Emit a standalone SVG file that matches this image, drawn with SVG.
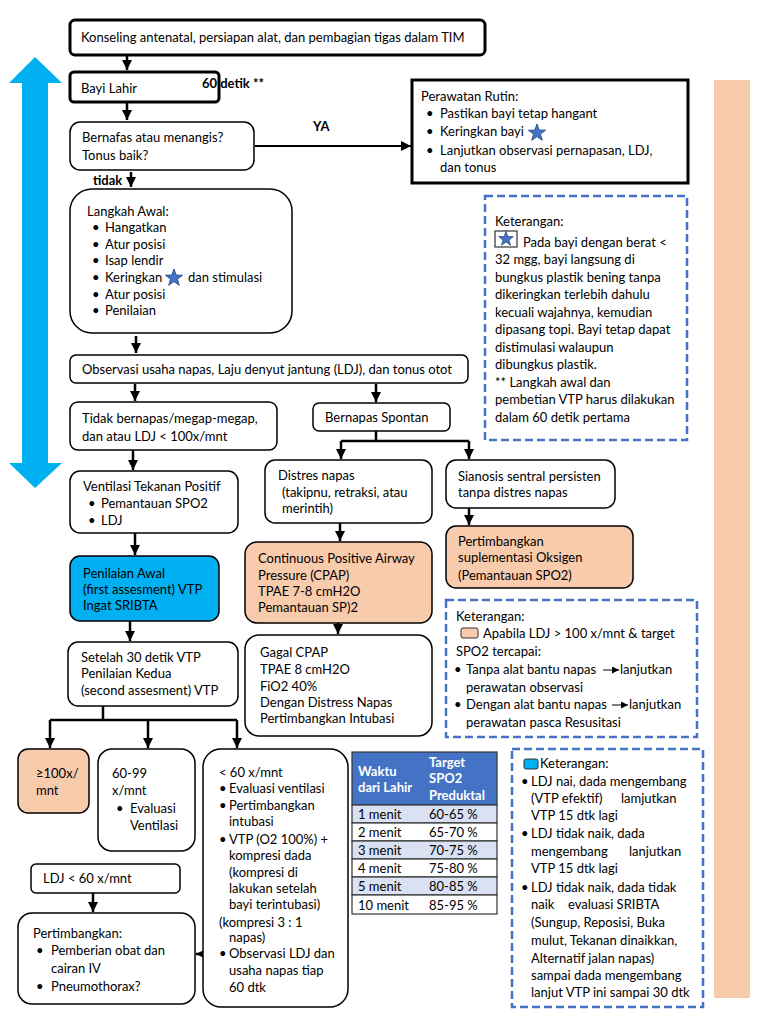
<svg xmlns="http://www.w3.org/2000/svg" width="768" height="1024" viewBox="0 0 768 1024">
<style>
text{font-family:Lato,"Liberation Sans",sans-serif;font-size:13px;fill:#000}
.b{font-weight:bold}
.w{fill:#fff;font-weight:bold}
.box{fill:#fff;stroke:#000;stroke-width:1.5}
.thick{fill:#fff;stroke:#000;stroke-width:3}
.or{fill:#F8CBAD;stroke:#000;stroke-width:1.5}
.bl{fill:#00B0F0;stroke:#000;stroke-width:1.5}
.dash{fill:#fff;stroke:#4472C4;stroke-width:2.5;stroke-dasharray:8 4}
.c{stroke:#000;stroke-width:2.5;fill:none}
.ca{stroke:#000;stroke-width:2.5;fill:none;marker-end:url(#ah)}
.st{fill:#4472C4;stroke:#2F528F;stroke-width:1}
.row1{fill:#D9E1F2;stroke:#333;stroke-width:1.2}
.row2{fill:#fff;stroke:#333;stroke-width:1.2}
</style>
<defs>
<marker id="ah" markerUnits="userSpaceOnUse" markerWidth="10" markerHeight="10" viewBox="0 0 10 10" refX="10" refY="5" orient="auto"><path d="M0,0 L10,5 L0,10 z" fill="#000"/></marker>
<marker id="sa" markerUnits="userSpaceOnUse" markerWidth="7" markerHeight="7" viewBox="0 0 10 10" refX="10" refY="5" orient="auto"><path d="M0,0 L10,5 L0,10 z" fill="#000"/></marker>
<polygon id="star" points="0,-9 2.12,-2.91 8.56,-2.78 3.42,1.11 5.29,7.28 0,3.6 -5.29,7.28 -3.42,1.11 -8.56,-2.78 -2.12,-2.91"/>
</defs>

<!-- side decorations -->
<rect x="714" y="80" width="36" height="918" fill="#F8CBAD"/>
<polygon id="bluearrow" points="35,57 62,83 48,83 48,463 62,463 35,488 9,463 22,463 22,83 9,83" fill="#00B0F0"/>

<g id="connectors">
<path class="ca" d="M127,56 V70"/>
<path class="ca" d="M127,102 V120"/>
<path class="ca" d="M255,146 H411" style="stroke-width:2"/>
<path class="ca" d="M131,172 V187"/>
<path class="ca" d="M136,336 V353"/>
<path class="ca" d="M135,384 V401"/>
<path class="ca" d="M376,384 V402"/>
<path class="c" d="M376,431 V441"/>
<path class="c" d="M341,441 H469"/>
<path class="ca" d="M341,441 V459"/>
<path class="ca" d="M469,441 V459"/>
<path class="ca" d="M133,450 V470"/>
<path class="ca" d="M135,533 V555"/>
<path class="ca" d="M130,621 V641"/>
<path class="c" d="M103,706 V720"/>
<path class="c" d="M50,720 H237"/>
<path class="ca" d="M50,720 V748"/>
<path class="ca" d="M148,720 V748"/>
<path class="ca" d="M237,720 V748"/>
<path class="ca" d="M340,523 V541"/>
<path class="ca" d="M469,508 V525"/>
<path class="ca" d="M338,623 V634"/>
<path class="ca" d="M93,893 V912"/>
<path class="ca" d="M209,954 H196"/>
</g>

<g id="n-konseling">
<rect class="thick" x="70" y="20" width="415" height="35" rx="5"/>
<text x="81" y="42">Konseling antenatal, persiapan alat, dan pembagian tigas dalam TIM</text>
</g>

<g id="n-bayi">
<rect class="thick" x="70" y="72" width="149" height="30" rx="4"/>
<text x="81" y="93">Bayi Lahir</text>
<text class="b" x="202" y="88">60 detik **</text>
</g>

<g id="n-bernafas">
<rect class="box" x="70" y="122" width="184" height="48" rx="10"/>
<text x="82" y="142">Bernafas atau menangis?</text>
<text x="82" y="160">Tonus baik?</text>
<text class="b" x="313" y="131">YA</text>
<text class="b" x="93" y="185">tidak</text>
</g>

<g id="n-perawatan">
<rect class="thick" x="412" y="80" width="276" height="103"/>
<text x="421" y="101">Perawatan Rutin:</text>
<text x="426" y="118">•</text><text x="440" y="118">Pastikan bayi tetap hangant</text>
<text x="426" y="136">•</text><text x="440" y="136">Keringkan bayi</text>
<use href="#star" class="st" x="537" y="133"/>
<text x="426" y="155">•</text><text x="440" y="155">Lanjutkan observasi pernapasan, LDJ,</text>
<text x="440" y="172">dan tonus</text>
</g>

<g id="n-langkah">
<rect class="box" x="70" y="189" width="222" height="144" rx="22"/>
<text x="87" y="216">Langkah Awal:</text>
<text x="92" y="232">•</text><text x="105" y="232">Hangatkan</text>
<text x="92" y="249">•</text><text x="105" y="249">Atur posisi</text>
<text x="92" y="265">•</text><text x="105" y="265">Isap lendir</text>
<text x="92" y="282">•</text><text x="105" y="282">Keringkan</text>
<use href="#star" class="st" x="174" y="278"/>
<text x="188" y="282">dan stimulasi</text>
<text x="92" y="299">•</text><text x="105" y="299">Atur posisi</text>
<text x="92" y="315">•</text><text x="105" y="315">Penilaian</text>
</g>

<g id="n-ket1">
<rect class="dash" x="485" y="196" width="202" height="244"/>
<text x="495" y="226">Keterangan:</text>
<rect x="495" y="231" width="22" height="16" fill="#fff" stroke="#333" stroke-width="1.2"/>
<use href="#star" class="st" transform="translate(506,239) scale(0.85)"/>
<text x="523" y="247">Pada bayi dengan berat &lt;</text>
<text x="495" y="264">32 mgg, bayi langsung di</text>
<text x="495" y="282">bungkus plastik bening tanpa</text>
<text x="495" y="299">dikeringkan terlebih dahulu</text>
<text x="495" y="317">kecuali wajahnya, kemudian</text>
<text x="495" y="334">dipasang topi. Bayi tetap dapat</text>
<text x="495" y="352">distimulasi walaupun</text>
<text x="495" y="369">dibungkus plastik.</text>
<text x="495" y="387">** Langkah awal dan</text>
<text x="495" y="404">pembetian VTP harus dilakukan</text>
<text x="495" y="422">dalam 60 detik pertama</text>
</g>

<g id="n-observasi">
<rect class="box" x="70" y="355" width="398" height="28" rx="6"/>
<text x="82" y="374">Observasi usaha napas, Laju denyut jantung (LDJ), dan tonus otot</text>
</g>

<g id="n-tidak">
<rect class="box" x="70" y="402" width="207" height="48" rx="8"/>
<text x="82" y="423">Tidak bernapas/megap-megap,</text>
<text x="82" y="441">dan atau LDJ &lt; 100x/mnt</text>
</g>

<g id="n-spontan">
<rect class="box" x="313" y="403" width="137" height="28" rx="6"/>
<text x="325" y="422">Bernapas Spontan</text>
</g>

<g id="n-vtp">
<rect class="box" x="70" y="471" width="168" height="62" rx="10"/>
<text x="83" y="491">Ventilasi Tekanan Positif</text>
<text x="88" y="508">•</text><text x="101" y="508">Pemantauan SPO2</text>
<text x="88" y="525">•</text><text x="101" y="525">LDJ</text>
</g>

<g id="n-distres">
<rect class="box" x="265" y="460" width="167" height="63" rx="10"/>
<text x="278" y="480">Distres napas</text>
<text x="282" y="497">(takipnu, retraksi, atau</text>
<text x="282" y="513">merintih)</text>
</g>

<g id="n-sianosis">
<rect class="box" x="446" y="460" width="169" height="48" rx="10"/>
<text x="458" y="481">Sianosis sentral persisten</text>
<text x="458" y="497">tanpa distres napas</text>
</g>

<g id="n-oksigen">
<rect class="or" x="446" y="526" width="187" height="62" rx="10"/>
<text x="458" y="546">Pertimbangkan</text>
<text x="458" y="562">suplementasi Oksigen</text>
<text x="458" y="580">(Pemantauan SPO2)</text>
</g>

<g id="n-penilaian-awal">
<rect class="bl" x="70" y="556" width="149" height="65" rx="10"/>
<text x="83" y="578">Penilaian Awal</text>
<text x="83" y="594">(first assesment) VTP</text>
<text x="83" y="610">Ingat SRIBTA</text>
</g>

<g id="n-cpap">
<rect class="or" x="245" y="542" width="187" height="81" rx="12"/>
<text x="258" y="563">Continuous Positive Airway</text>
<text x="258" y="580">Pressure (CPAP)</text>
<text x="258" y="596">TPAE 7-8 cmH2O</text>
<text x="258" y="612">Pemantauan SP)2</text>
</g>

<g id="n-ket2">
<rect class="dash" x="446" y="600" width="251" height="137"/>
<text x="456" y="621">Keterangan:</text>
<rect x="461" y="628" width="17" height="10" rx="2" fill="#F8CBAD" stroke="#333" stroke-width="1"/>
<text x="483" y="638">Apabila LDJ &gt; 100 x/mnt &amp; target</text>
<text x="456" y="656">SPO2 tercapai:</text>
<text x="454" y="674">•</text><text x="466" y="674">Tanpa alat bantu napas</text>
<path d="M603,670 H619" stroke="#000" stroke-width="1" marker-end="url(#sa)"/>
<text x="620" y="674">lanjutkan</text>
<text x="466" y="692">perawatan observasi</text>
<text x="454" y="709">•</text><text x="466" y="709">Dengan alat bantu napas</text>
<path d="M612,705 H628" stroke="#000" stroke-width="1" marker-end="url(#sa)"/>
<text x="629" y="709">lanjutkan</text>
<text x="466" y="727">perawatan pasca Resusitasi</text>
</g>

<g id="n-setelah">
<rect class="box" x="68" y="642" width="170" height="64" rx="10"/>
<text x="81" y="662">Setelah 30 detik VTP</text>
<text x="81" y="678">Penilaian Kedua</text>
<text x="81" y="695">(second assesment) VTP</text>
</g>

<g id="n-gagal">
<rect class="box" x="245" y="635" width="187" height="101" rx="14"/>
<text x="260" y="657">Gagal CPAP</text>
<text x="260" y="674">TPAE  8 cmH2O</text>
<text x="260" y="691">FiO2 40%</text>
<text x="260" y="707">Dengan Distress Napas</text>
<text x="260" y="723">Pertimbangkan Intubasi</text>
</g>

<g id="n-100">
<rect class="or" x="18" y="749" width="71" height="64" rx="10"/>
<text x="36" y="778">≥100x/</text>
<text x="36" y="795">mnt</text>
</g>

<g id="n-6099">
<rect class="box" x="98" y="749" width="97" height="102" rx="14"/>
<text x="112" y="778">60-99</text>
<text x="112" y="795">x/mnt</text>
<text x="116" y="813">•</text><text x="130" y="813">Evaluasi</text>
<text x="130" y="830">Ventilasi</text>
</g>

<g id="n-60">
<rect class="box" x="203" y="749" width="145" height="258" rx="18"/>
<text x="219" y="777">&lt; 60 x/mnt</text>
<text x="219" y="793">•</text><text x="229" y="793">Evaluasi ventilasi</text>
<text x="219" y="810">•</text><text x="229" y="810">Pertimbangkan</text>
<text x="229" y="826">intubasi</text>
<text x="219" y="844">•</text><text x="229" y="844">VTP (O2 100%) +</text>
<text x="229" y="860">kompresi dada</text>
<text x="229" y="877">(kompresi di</text>
<text x="229" y="893">lakukan setelah</text>
<text x="229" y="909">bayi terintubasi)</text>
<text x="219" y="927">(kompresi 3 : 1</text>
<text x="229" y="942">napas)</text>
<text x="219" y="958">•</text><text x="229" y="958">Observasi LDJ dan</text>
<text x="229" y="975">usaha napas tiap</text>
<text x="229" y="992">60 dtk</text>
</g>

<g id="n-ldj60">
<rect class="box" x="31" y="864" width="149" height="29" rx="5"/>
<text x="43" y="883">LDJ &lt; 60 x/mnt</text>
</g>

<g id="n-pertimbangkan">
<rect class="box" x="18" y="913" width="177" height="91" rx="14"/>
<text x="33" y="938">Pertimbangkan:</text>
<text x="36" y="955">•</text><text x="51" y="955">Pemberian obat dan</text>
<text x="51" y="973">cairan IV</text>
<text x="36" y="991">•</text><text x="51" y="991">Pneumothorax?</text>
</g>

<g id="n-table">
<rect x="352" y="752" width="145" height="53" fill="#4472C4" stroke="#333" stroke-width="1.2"/>
<text class="w" x="358" y="776">Waktu</text>
<text class="w" x="358" y="792">dari Lahir</text>
<text class="w" x="429" y="767">Target</text>
<text class="w" x="429" y="783">SPO2</text>
<text class="w" x="429" y="800">Preduktal</text>
<rect class="row1" x="352" y="805" width="145" height="18"/>
<rect class="row2" x="352" y="823" width="145" height="18"/>
<rect class="row1" x="352" y="841" width="145" height="18"/>
<rect class="row2" x="352" y="859" width="145" height="18"/>
<rect class="row1" x="352" y="877" width="145" height="18"/>
<rect class="row2" x="352" y="895" width="145" height="19"/>
<text x="358" y="819">1 menit</text><text x="429" y="819">60-65 %</text>
<text x="358" y="837">2 menit</text><text x="429" y="837">65-70 %</text>
<text x="358" y="855">3 menit</text><text x="429" y="855">70-75 %</text>
<text x="358" y="873">4 menit</text><text x="429" y="873">75-80 %</text>
<text x="358" y="891">5 menit</text><text x="429" y="891">80-85 %</text>
<text x="358" y="910">10 menit</text><text x="429" y="910">85-95 %</text>
</g>

<g id="n-ket3">
<rect class="dash" x="512" y="749" width="191" height="258"/>
<rect x="524" y="759" width="14" height="10" rx="2" fill="#00B0F0" stroke="#333" stroke-width="1"/>
<text x="540" y="768">Keterangan:</text>
<text x="521" y="786">•</text><text x="531" y="786">LDJ nai, dada mengembang</text>
<text x="531" y="803">(VTP efektif)</text><text x="621" y="803">lamjutkan</text>
<text x="531" y="820">VTP 15 dtk lagi</text>
<text x="521" y="838">•</text><text x="531" y="838">LDJ tidak naik, dada</text>
<text x="531" y="856">mengembang</text><text x="629" y="856">lanjutkan</text>
<text x="531" y="873">VTP 15 dtk lagi</text>
<text x="521" y="892">•</text><text x="531" y="892">LDJ tidak naik, dada tidak</text>
<text x="531" y="909">naik</text><text x="568" y="909">evaluasi SRIBTA</text>
<text x="531" y="927">(Sungup, Reposisi, Buka</text>
<text x="531" y="945">mulut, Tekanan dinaikkan,</text>
<text x="531" y="963">Alternatif jalan napas)</text>
<text x="531" y="980">sampai dada mengembang</text>
<text x="531" y="997">lanjut VTP ini sampai 30 dtk</text>
</g>
</svg>
